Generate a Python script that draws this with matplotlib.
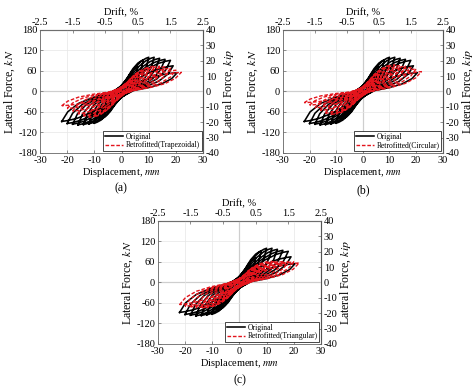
import numpy as np
import matplotlib.pyplot as plt

plt.rcParams['font.family'] = ['Liberation Serif', 'DejaVu Serif']
plt.rcParams['mathtext.fontset'] = 'stix'
plt.rcParams['axes.unicode_minus'] = False

# --- cycle peaks (mm, kN) ---
disp_pos = [2, 4, 6, 8, 10, 12, 14, 16, 18, 20, 22]
disp_neg = [-2, -4, -6, -8, -10, -12, -14, -16, -18, -20, -22]

orig_dpos = [2, 4, 6, 8, 10, 12, 14, 16, 18, 19, 20.5]
orig_fpos = [22, 45, 72, 92, 100, 100, 97, 94, 91, 75, 55]
orig_fneg = [-20, -40, -62, -82, -93, -95, -97, -98, -96, -94, -88]

trap_fpos = [18, 34, 50, 62, 70, 74, 74, 72, 68, 62, 56]
trap_fneg = [-16, -32, -50, -64, -74, -76, -72, -66, -58, -50, -42]

circ_fpos = [18, 36, 54, 68, 76, 78, 76, 74, 70, 66, 58]
circ_fneg = [-15, -30, -46, -58, -66, -68, -64, -56, -48, -40, -33]

tri_fpos = [16, 32, 46, 55, 60, 62, 62, 61, 60, 60, 57]
tri_fneg = [-15, -32, -50, -62, -70, -74, -75, -74, -72, -70, -65]

panels = [
    ("(a)", "Retrofitted(Trapezoidal)", trap_fpos, trap_fneg),
    ("(b)", "Retrofitted(Circular)", circ_fpos, circ_fneg),
    ("(c)", "Retrofitted(Triangular)", tri_fpos, tri_fneg),
]

# pinched, leaf-shaped loop: fractions of the peak along each branch
unload_x = [1.0, 0.9, 0.72, 0.48, 0.22, 0.0]
unload_y = [1.0, 0.68, 0.4, 0.2, 0.05]
reload_x = [0.28, 0.52, 0.75, 0.9, 1.0]
reload_y = [0.18, 0.45, 0.72, 0.9, 0.97, 1.0]


def branch(d0, f0, d1, f1):
    xs = [d0 * a for a in unload_x] + [d1 * a for a in reload_x]
    ys = [f0 * a for a in unload_y] + [f1 * a for a in reload_y]
    return xs, ys


def hysteresis(dp, fp, dn, fn):
    X, Y = [], []
    for a, b, c, d in zip(dp, fp, dn, fn):
        x1, y1 = branch(c, d, a, b)
        x2, y2 = branch(a, b, c, d)
        X += x1 + x2[1:] + [np.nan]
        Y += y1 + y2[1:] + [np.nan]
    return X, Y


fig = plt.figure(figsize=(4.74, 3.89), dpi=100)
boxes = [[0.0844, 0.607, 0.344, 0.316],
         [0.597, 0.607, 0.337, 0.316],
         [0.333, 0.116, 0.344, 0.316]]
tags = [(0.255, 0.517), (0.767, 0.512), (0.506, 0.023)]

ox, oy = hysteresis(orig_dpos, orig_fpos, disp_neg, orig_fneg)
tick_kw = dict(labelsize=7.5, length=2, width=0.5, pad=2, direction='in', color='#666666')

for (tag, lab, fpos, fneg), box, tpos in zip(panels, boxes, tags):
    ax = fig.add_axes(box)
    ax.grid(color='#e6e6e6', lw=0.5)
    ax.axhline(0, color='#999999', lw=0.8, zorder=1)
    ax.axvline(0, color='#999999', lw=0.8, zorder=1)
    ax.plot(ox, oy, color='black', lw=1.15, label='Original', zorder=2)
    rx, ry = hysteresis(disp_pos, fpos, disp_neg, fneg)
    ax.plot(rx, ry, color='#e3141c', lw=1.0, ls='--', dashes=(2.6, 1.3),
            label=lab, zorder=3)
    ax.set_xlim(-30, 30)
    ax.set_ylim(-180, 180)
    ax.set_xticks(np.arange(-30, 31, 10))
    ax.set_yticks(np.arange(-180, 181, 60))
    ax.tick_params(**tick_kw)
    for s in ax.spines.values():
        s.set_linewidth(0.6)
        s.set_color('#666666')
    ax.set_xlabel('Displacement, $\\mathit{mm}$', fontsize=7.5, labelpad=1)
    ax.set_ylabel('Lateral Force, $\\mathit{kN}$', fontsize=8.5, labelpad=1)

    top = ax.secondary_xaxis('top', functions=(lambda x: x / 12, lambda x: x * 12))
    top.set_xticks(np.arange(-2.5, 2.6, 1.0))
    top.tick_params(**tick_kw)
    top.set_xlabel('Drift, %', fontsize=7.5, labelpad=2)

    right = ax.secondary_yaxis('right', functions=(lambda y: y * 40 / 180, lambda y: y * 180 / 40))
    right.set_yticks(np.arange(-40, 41, 10))
    right.tick_params(**tick_kw)
    right.set_ylabel('Lateral Force, $\\mathit{kip}$', fontsize=8.5, labelpad=1)

    leg = ax.legend(loc='lower right', fontsize=5.5, handlelength=2.4,
                    borderpad=0.25, labelspacing=0.1, handletextpad=0.3,
                    fancybox=False, edgecolor='black', framealpha=1,
                    borderaxespad=0.2)
    leg.get_frame().set_linewidth(0.5)

    fig.text(tpos[0], tpos[1], tag, fontsize=8.5, ha='center', va='center')

fig.savefig('out.png', dpi=100)
